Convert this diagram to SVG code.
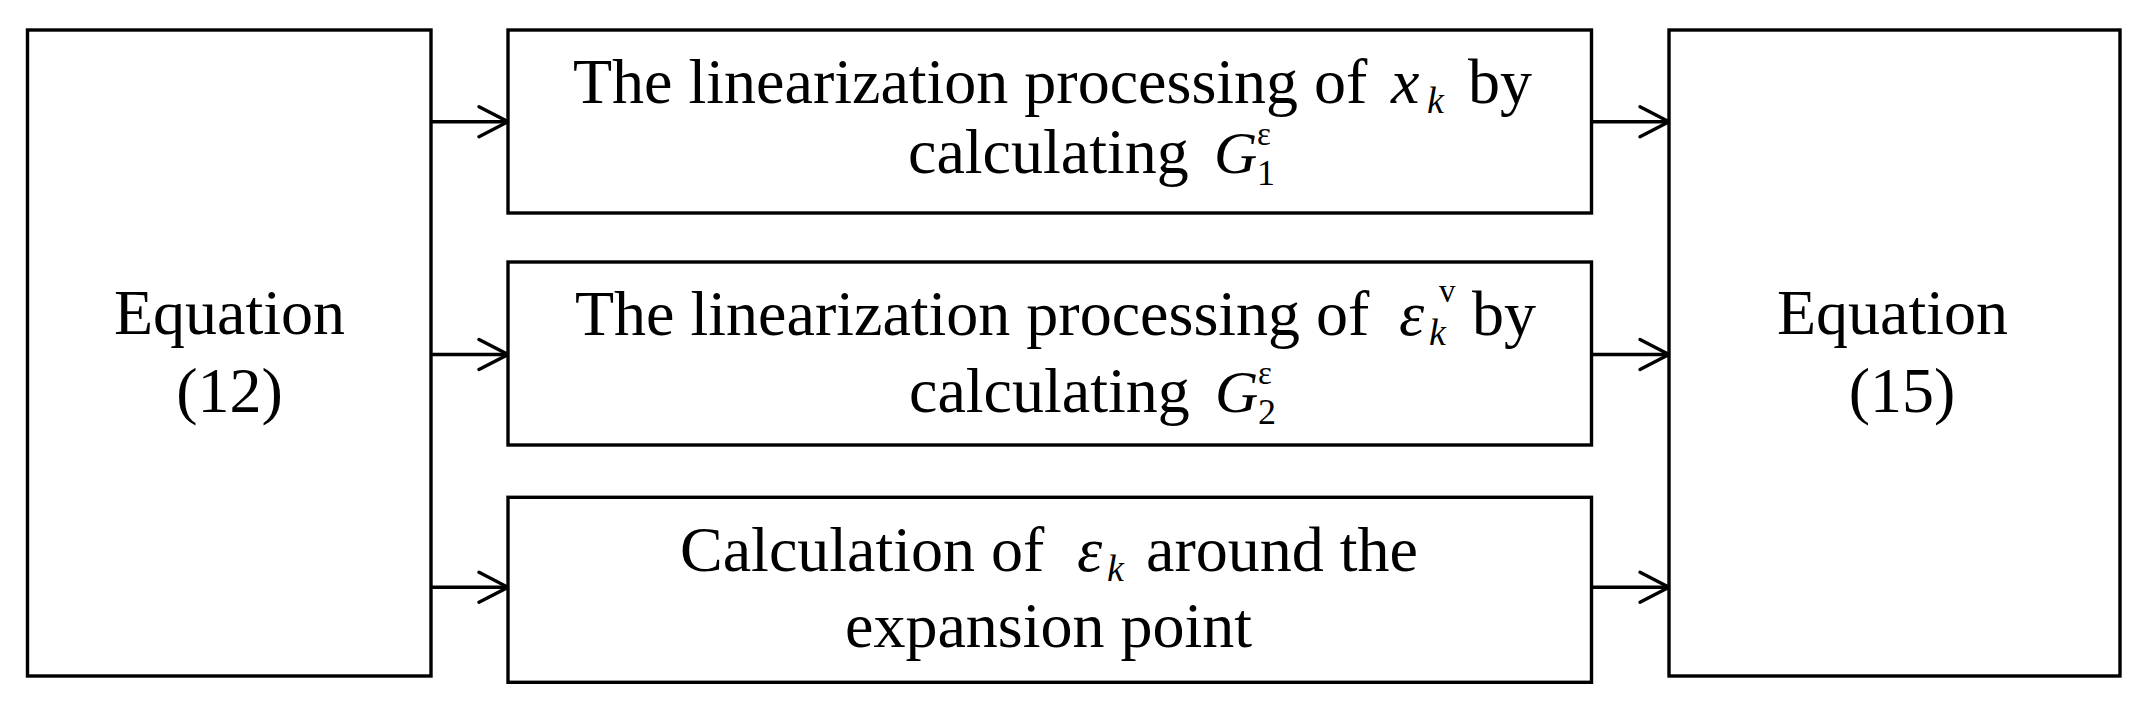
<svg xmlns="http://www.w3.org/2000/svg" width="2152" height="715" viewBox="0 0 2152 715">
<style>
  .box { fill: #ffffff; stroke: #000000; stroke-width: 3.4; }
  .conn { fill: none; stroke: #000000; stroke-width: 3.4; }
  text { font-family: "Liberation Serif", "Times New Roman", serif; font-size: 64px; fill: #000000; }
  .mi { font-style: italic; }
  .g { font-style: italic; font-size: 60px; }
  .sub { font-size: 38px; }
  .subn { font-size: 36px; }
  .sup { font-size: 33px; }
</style>
<defs>
  <marker id="arrow" markerUnits="userSpaceOnUse" viewBox="-32 -18 35 36" markerWidth="35" markerHeight="36" refX="0" refY="0" orient="auto" overflow="visible">
    <path d="M-29,-15 L0,0 L-29,15" fill="none" stroke="#000000" stroke-width="3.4" stroke-linecap="round" stroke-linejoin="miter"/>
  </marker>
</defs>
<rect x="0" y="0" width="2152" height="715" fill="#ffffff"/>

<g id="connectors">
  <line class="conn" x1="431" y1="121.7" x2="508" y2="121.7" marker-end="url(#arrow)"/>
  <line class="conn" x1="431" y1="354.5" x2="508" y2="354.5" marker-end="url(#arrow)"/>
  <line class="conn" x1="431" y1="587.3" x2="508" y2="587.3" marker-end="url(#arrow)"/>
  <line class="conn" x1="1591.5" y1="121.7" x2="1669" y2="121.7" marker-end="url(#arrow)"/>
  <line class="conn" x1="1591.5" y1="354.5" x2="1669" y2="354.5" marker-end="url(#arrow)"/>
  <line class="conn" x1="1591.5" y1="587.3" x2="1669" y2="587.3" marker-end="url(#arrow)"/>
</g>

<g id="eq12">
  <rect class="box" x="27.5" y="30" width="403.5" height="646"/>
  <text x="229.5" y="334" text-anchor="middle">Equation</text>
  <text x="229.5" y="412" text-anchor="middle">(12)</text>
</g>

<g id="lin-xk">
  <rect class="box" x="508" y="30" width="1083.5" height="183"/>
  <text><tspan x="573" y="103">The linearization processing of</tspan><tspan class="mi" x="1391" y="103">x</tspan><tspan class="mi sub" x="1427" y="113">k</tspan><tspan x="1468" y="103">by</tspan></text>
  <text><tspan x="908" y="173">calculating</tspan><tspan class="g" x="1214" y="173">G</tspan><tspan class="sup" x="1257" y="145">ε</tspan><tspan class="subn" x="1257" y="185">1</tspan></text>
</g>

<g id="lin-ev">
  <rect class="box" x="508" y="262" width="1083.5" height="183"/>
  <text><tspan x="575" y="335">The linearization processing of</tspan><tspan class="mi" x="1399" y="335">ε</tspan><tspan class="mi sub" x="1429" y="345">k</tspan><tspan class="sup" x="1439" y="302">v</tspan><tspan x="1472" y="335">by</tspan></text>
  <text><tspan x="909" y="412">calculating</tspan><tspan class="g" x="1215" y="412">G</tspan><tspan class="sup" x="1258" y="384">ε</tspan><tspan class="subn" x="1258" y="424">2</tspan></text>
</g>

<g id="calc-ek">
  <rect class="box" x="508" y="497.3" width="1083.5" height="185"/>
  <text><tspan x="680" y="571">Calculation of</tspan><tspan class="mi" x="1077" y="571">ε</tspan><tspan class="mi sub" x="1107" y="581">k</tspan><tspan x="1146" y="571">around the</tspan></text>
  <text x="845" y="647">expansion point</text>
</g>

<g id="eq15">
  <rect class="box" x="1669" y="30" width="451" height="646"/>
  <text x="1892.5" y="334" text-anchor="middle">Equation</text>
  <text x="1902" y="412" text-anchor="middle">(15)</text>
</g>
</svg>
